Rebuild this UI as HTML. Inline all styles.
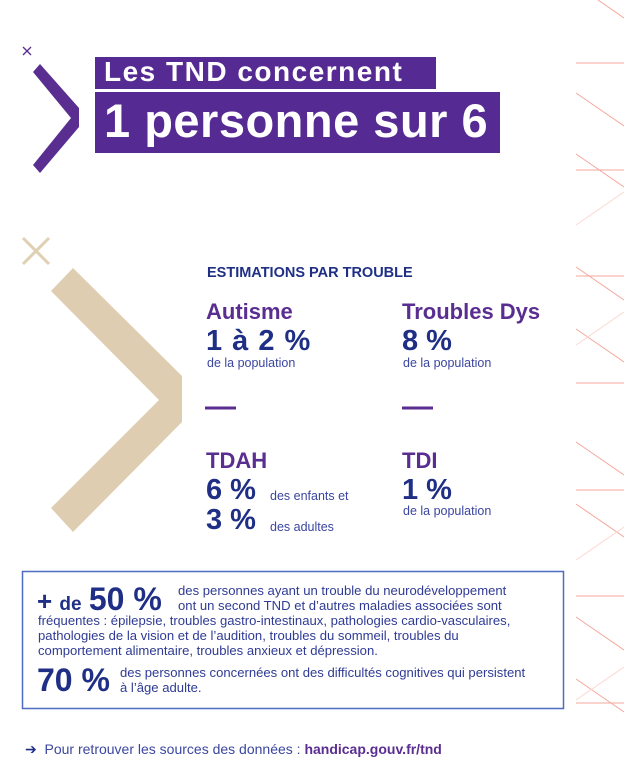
<!DOCTYPE html>
<html><head><meta charset="utf-8"><style>
body{margin:0;width:624px;height:761px;background:#fff;position:relative;overflow:hidden;font-family:"Liberation Sans",sans-serif}
.a{position:absolute;white-space:nowrap;line-height:1}
.p{color:#5a2d91;font-weight:bold}
.n{color:#1f2f85;font-weight:bold}
.s{color:#3b46a0;font-size:12.5px}
.t{color:#2f3b94;font-size:13.1px}
</style></head><body>
<svg width="624" height="761" style="position:absolute;left:0;top:0">
<g stroke="#5a2d91" stroke-width="1.3"><line x1="23" y1="47" x2="31" y2="55"/><line x1="31" y1="47" x2="23" y2="55"/></g>
<polygon points="33,72 40,64 79,108 79,127 40,173 33,165 71,118" fill="#5a2d91"/>
<rect x="95" y="57" width="341" height="32" fill="#552a92"/>
<rect x="95" y="92" width="405" height="61" fill="#552a92"/>
<g stroke="#dfcfb3" stroke-width="3"><line x1="23" y1="238" x2="49" y2="264"/><line x1="49" y1="238" x2="23" y2="264"/></g>
<polygon points="51,291 73,268 182,376 182,422 73,532 51,508 159,400" fill="#dfcdb2"/>
<line x1="205" y1="408" x2="236" y2="408" stroke="#5a2d91" stroke-width="3"/>
<line x1="402" y1="408" x2="433" y2="408" stroke="#5a2d91" stroke-width="3"/>
<rect x="22.5" y="571.5" width="541" height="137" fill="none" stroke="#4d6cc2" stroke-width="1.5"/>
<g stroke="#f4a79c" stroke-width="1">
<line x1="598" y1="0" x2="624" y2="18"/>
<line x1="576" y1="63" x2="624" y2="63"/>
<line x1="576" y1="93" x2="624" y2="126"/>
<line x1="576" y1="154" x2="624" y2="187"/>
<line x1="576" y1="170" x2="624" y2="170"/>
<line x1="576" y1="267" x2="624" y2="300"/>
<line x1="576" y1="276" x2="624" y2="276"/>
<line x1="576" y1="329" x2="624" y2="362"/>
<line x1="576" y1="383" x2="624" y2="383"/>
<line x1="576" y1="442" x2="624" y2="475"/>
<line x1="576" y1="504" x2="624" y2="537"/>
<line x1="576" y1="490" x2="624" y2="490"/>
<line x1="576" y1="617" x2="624" y2="650"/>
<line x1="576" y1="596" x2="624" y2="596"/>
<line x1="576" y1="679" x2="624" y2="712"/>
<line x1="576" y1="703" x2="624" y2="703"/>
</g>
<g stroke="#fbd7d1" stroke-width="1">
<line x1="576" y1="225" x2="624" y2="192"/>
<line x1="576" y1="345" x2="624" y2="312"/>
<line x1="576" y1="560" x2="624" y2="527"/>
<line x1="576" y1="700" x2="624" y2="667"/>
</g>
</svg>
<div class="a" style="left:104px;top:58px;color:#fff;font-weight:bold;font-size:28px;letter-spacing:1.5px">Les TND concernent</div>
<div class="a" style="left:104px;top:97px;color:#fff;font-weight:bold;font-size:47px;letter-spacing:0.5px">1 personne sur 6</div>

<div class="a n" style="left:207px;top:266px;font-size:14.5px">ESTIMATIONS PAR TROUBLE</div>
<div class="a p" style="left:206px;top:301px;font-size:22px">Autisme</div>
<div class="a n" style="left:206px;top:327px;font-size:29px;letter-spacing:1px">1 à 2 %</div>
<div class="a s" style="left:207px;top:357px">de la population</div>
<div class="a p" style="left:402px;top:301px;font-size:22px">Troubles Dys</div>
<div class="a n" style="left:402px;top:327px;font-size:29px">8 %</div>
<div class="a s" style="left:403px;top:357px">de la population</div>

<div class="a p" style="left:206px;top:450px;font-size:22px">TDAH</div>
<div class="a n" style="left:206px;top:476px;font-size:29px">6 %</div>
<div class="a s" style="left:270px;top:490px">des enfants et</div>
<div class="a n" style="left:206px;top:506px;font-size:29px">3 %</div>
<div class="a s" style="left:270px;top:521px">des adultes</div>
<div class="a p" style="left:402px;top:450px;font-size:22px">TDI</div>
<div class="a n" style="left:402px;top:476px;font-size:29px">1 %</div>
<div class="a s" style="left:403px;top:505px">de la population</div>

<div class="a n" style="left:37px;top:583px;font-size:26px">+ <span style="font-size:19px">de</span> <span style="font-size:32px">50 %</span></div>
<div class="a t" style="left:178px;top:584px">des personnes ayant un trouble du neurodéveloppement</div>
<div class="a t" style="left:178px;top:599px">ont un second TND et d’autres maladies associées sont</div>
<div class="a t" style="left:38px;top:614px">fréquentes : épilepsie, troubles gastro-intestinaux, pathologies cardio-vasculaires,</div>
<div class="a t" style="left:38px;top:629px">pathologies de la vision et de l’audition, troubles du sommeil, troubles du</div>
<div class="a t" style="left:38px;top:644px">comportement alimentaire, troubles anxieux et dépression.</div>
<div class="a n" style="left:37px;top:664px;font-size:32px">70 %</div>
<div class="a t" style="left:120px;top:666px">des personnes concernées ont des difficultés cognitives qui persistent</div>
<div class="a t" style="left:120px;top:681px">à l’âge adulte.</div>

<div class="a" style="left:25px;top:742px;font-size:14px;color:#3b46a0"><span style="color:#1f2f85">➔</span>&nbsp; Pour retrouver les sources des données : <b style="color:#5a2d91">handicap.gouv.fr/tnd</b></div>
</body></html>
